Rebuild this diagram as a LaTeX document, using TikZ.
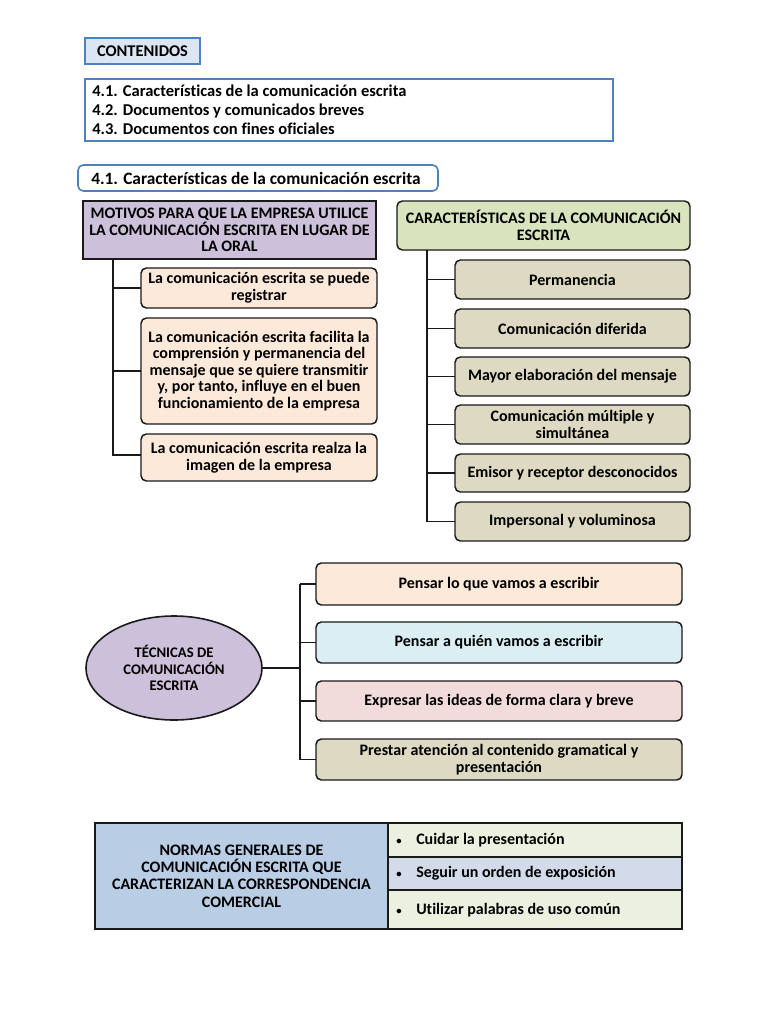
\documentclass[tikz,border=0pt]{standalone}
\usepackage{fontspec}
\setmainfont{Carlito}[Ligatures=NoCommon]
\usetikzlibrary{shapes.geometric}
\definecolor{bblue}{HTML}{4F81BD}
\definecolor{lblue}{HTML}{DCE6F2}
\definecolor{purp}{HTML}{CCC0DA}
\definecolor{peach}{HTML}{FDE9D9}
\definecolor{grn}{HTML}{D7E4BD}
\definecolor{tan}{HTML}{DDD9C3}
\definecolor{cyanl}{HTML}{DBEEF4}
\definecolor{pinkl}{HTML}{F2DCDB}
\definecolor{tblue}{HTML}{B9CDE5}
\definecolor{tgreen}{HTML}{EBF1DE}
\definecolor{tlav}{HTML}{D3DAEA}
\definecolor{ink}{HTML}{1A1A1A}
\begin{document}
\begin{tikzpicture}[x=0.75pt,y=-0.75pt,
  every node/.style={font=\bfseries\fontsize{12}{12.4}\selectfont, text=black, inner sep=0pt},
  bx/.style={draw=ink, line width=1.1pt, rounded corners=4pt, align=center},
  tree/.style={draw=ink, line width=1.1pt}]
\useasboundingbox (0,0) rectangle (768,1024);
\fill[white] (0,0) rectangle (768,1024);

% header
\draw[draw=bblue, line width=1.2pt, fill=lblue] (85,38) rectangle (200,64);
\node[font=\bfseries\fontsize{12.3}{13}\selectfont] (cont) at (142.5,51) {CONTENIDOS};
\draw[draw=bblue, line width=1.2pt] (85,79) rectangle (613,141);
\node[anchor=west, align=left, font=\bfseries\fontsize{12.4}{14.25}\selectfont] (list) at (92,110) {4.1. Características de la comunicación escrita\\4.2. Documentos y comunicados breves\\4.3. Documentos con fines oficiales};
\draw[draw=bblue, line width=1.2pt, rounded corners=4pt] (78,165) rectangle (438,191);
\node[anchor=west, font=\bfseries\fontsize{13}{14}\selectfont] (t41) at (91,178) {4.1. Características de la comunicación escrita};

% left tree
\draw[draw=ink, line width=1.2pt, fill=purp] (83,201) rectangle (376,259);
\node[align=center] (mot) at (229.5,230) {MOTIVOS PARA QUE LA EMPRESA UTILICE\\LA COMUNICACIÓN ESCRITA EN LUGAR DE\\LA ORAL};
\draw[bx, fill=peach] (141,268) rectangle (377,308);
\node[align=center] (m1) at (259,288) {La comunicación escrita se puede\\registrar};
\draw[bx, fill=peach] (141,318) rectangle (377,424);
\node[align=center] (m2) at (259,371) {La comunicación escrita facilita la\\comprensión y permanencia del\\mensaje que se quiere transmitir\\y, por tanto, influye en el buen\\funcionamiento de la empresa};
\draw[bx, fill=peach] (141,434) rectangle (377,481);
\node[align=center] (m3) at (259,457.5) {La comunicación escrita realza la\\imagen de la empresa};
\draw[tree] (113,259) -- (113,455) -- (141,455);
\draw[tree] (113,288) -- (141,288);
\draw[tree] (113,371) -- (141,371);

% right tree
\draw[bx, fill=grn] (397,201) rectangle (690,250);
\node[align=center] (car) at (543.5,225.5) {CARACTERÍSTICAS DE LA COMUNICACIÓN\\ESCRITA};
\foreach \ya/\yb/\t [count=\i] in {260/299/Permanencia, 309/348/Comunicación diferida, 357/396/Mayor elaboración del mensaje, 405/444/{Comunicación múltiple y\\simultánea}, 454/492/Emisor y receptor desconocidos, 502/541/Impersonal y voluminosa}{
  \draw[bx, fill=tan] (455,\ya) rectangle (690,\yb);
  \node[align=center] (c\i) at (572.5,{(\ya+\yb)/2}) {\t};
  \draw[tree] (427,{(\ya+\yb)/2}) -- (455,{(\ya+\yb)/2});
}
\draw[tree] (427,250) -- (427,521.5);

% techniques
\node[ellipse, draw=ink, line width=1.2pt, fill=purp, minimum width=132pt, minimum height=78pt, align=center, font=\bfseries\fontsize{11}{12.6}\selectfont] (tec) at (174,668) {TÉCNICAS DE\\COMUNICACIÓN\\ESCRITA};
\foreach \ya/\yb/\c/\t [count=\i] in {563/605/peach/Pensar lo que vamos a escribir, 622/663/cyanl/Pensar a quién vamos a escribir, 681/721/pinkl/Expresar las ideas de forma clara y breve, 739/780/tan/{Prestar atención al contenido gramatical y\\presentación}}{
  \draw[bx, fill=\c] (316,\ya) rectangle (682,\yb);
  \node[align=center] (p\i) at (499,{(\ya+\yb)/2}) {\t};
  \draw[tree] (300,{(\ya+\yb)/2}) -- (316,{(\ya+\yb)/2});
}
\draw[tree] (300,584) -- (300,759.5);
\draw[tree] (tec.east) -- (300,668);

% table
\fill[tblue] (95,823) rectangle (388,929);
\fill[tgreen] (388,823) rectangle (682,857);
\fill[tlav] (388,857) rectangle (682,890);
\fill[tgreen] (388,890) rectangle (682,929);
\draw[ink, line width=1.2pt] (95,823) rectangle (682,929);
\draw[ink, line width=1.2pt] (388,823) -- (388,929);
\draw[ink, line width=1.2pt] (388,857) -- (682,857);
\draw[ink, line width=1.2pt] (388,890) -- (682,890);
\node[align=center, font=\bfseries\fontsize{12}{13}\selectfont] (nor) at (241.5,876) {NORMAS GENERALES DE\\COMUNICACIÓN ESCRITA QUE\\CARACTERIZAN LA CORRESPONDENCIA\\COMERCIAL};
\node[anchor=west] (n1) at (396,840) {{\fontsize{8}{8}\selectfont•}\hspace{11pt}Cuidar la presentación};
\node[anchor=west] (n2) at (396,873.5) {{\fontsize{8}{8}\selectfont•}\hspace{11pt}Seguir un orden de exposición};
\node[anchor=west] (n3) at (396,910) {{\fontsize{8}{8}\selectfont•}\hspace{11pt}Utilizar palabras de uso común};
\end{tikzpicture}
\end{document}
